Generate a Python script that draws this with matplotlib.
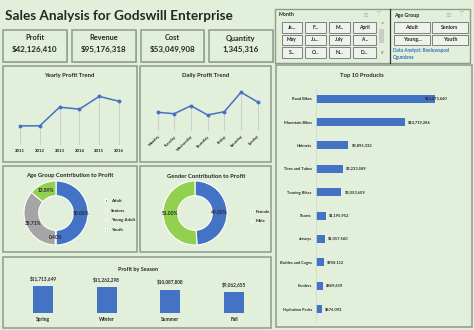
import matplotlib.pyplot as plt
from matplotlib.patches import Rectangle

# canvas in pixels
W, H = 474, 330
BG = '#E2EFDA'
BLUE = '#4472C4'
GREEN = '#92D050'
GRAY = '#A5A5A5'
ORANGE = '#ED7D31'
BORDER = '#8E9B8E'
TXT = '#262626'

plt.rcParams['font.family'] = ['Lato', 'DejaVu Sans']

# data
kpi_names = ['Profit', 'Revenue', 'Cost', 'Quantity']
kpi_values = ['$42,126,410', '$95,176,318', '$53,049,908', '1,345,316']

years = ['2011', '2012', '2013', '2014', '2015', '2016']
yearly_profit = [3.9, 3.9, 7.7, 7.3, 9.9, 8.9]  # $M

days = ['Monday', 'Tuesday', 'Wednesday', 'Thursday', 'Friday', 'Saturday', 'Sunday']
daily_profit = [5.47, 5.33, 6.13, 5.20, 5.53, 7.47, 6.50]  # $M

age_groups = ['Adult', 'Seniors', 'Young Adult', 'Youth']
age_share = [50.00, 0.40, 35.71, 13.89]

genders = ['Female', 'Male']
gender_share = [49.00, 51.00]

seasons = ['Spring', 'Winter', 'Summer', 'Fall']
season_profit = [11713649, 11262298, 10087808, 9062655]

products = ['Road Bikes', 'Mountain Bikes', 'Helmets', 'Tires and Tubes', 'Touring Bikes',
            'Shorts', 'Jerseys', 'Bottles and Cages', 'Fenders', 'Hydration Packs']
product_profit = [14273640, 10719286, 3895332, 3233589, 3053609,
                  1195952, 1057560, 958112, 869619, 676092]

months = ['Ja...', 'F...', 'M...', 'April', 'May', 'Ju...', 'July', 'A...',
          'S...', 'O...', 'N...', 'D...']
age_buttons = ['Adult', 'Seniors', 'Young...', 'Youth']


fig = plt.figure(figsize=(W / 100, H / 100), dpi=100, facecolor=BG)
bg = fig.add_axes([0, 0, 1, 1])
bg.set_xlim(0, W)
bg.set_ylim(H, 0)
bg.axis('off')


def px_axes(x0, y0, x1, y1):
    ax = fig.add_axes([x0 / W, 1 - y1 / H, (x1 - x0) / W, (y1 - y0) / H])
    ax.set_facecolor('none')
    return ax


def panel(x0, y0, x1, y1, shadow=False):
    if shadow:
        bg.add_patch(Rectangle((x0 + 1, y0 + 1), x1 - x0, y1 - y0,
                               facecolor='#B5BFB5', edgecolor='none'))
    bg.add_patch(Rectangle((x0, y0), x1 - x0, y1 - y0, facecolor=BG,
                           edgecolor=BORDER, lw=1.1))


def clean(ax):
    for s in ax.spines.values():
        s.set_visible(False)
    ax.set_yticks([])


# title
bg.text(5, 16, 'Sales Analysis for Godswill Enterprise', fontsize=9.8,
        fontweight='bold', color=TXT, va='center')

# KPI cards
kpi_x = [(3, 67), (72, 136), (141, 204), (209, 273)]
for (x0, x1), name, val in zip(kpi_x, kpi_names, kpi_values):
    panel(x0, 30, x1, 62, shadow=True)
    bg.text((x0 + x1) / 2, 38, name, fontsize=5.3, fontweight='bold',
            color=TXT, ha='center', va='center')
    bg.text((x0 + x1) / 2, 49, val, fontsize=5.8, fontweight='bold',
            color=TXT, ha='center', va='center')

# slicers
bg.add_patch(Rectangle((275, 9), 195, 54, facecolor=BG, edgecolor=BORDER, lw=1.0))
bg.plot([390.5, 390.5], [9, 63], color='#333333', lw=0.9)
bg.text(279, 15, 'Month', fontsize=3.8, fontweight='bold', color=TXT, va='center')
bg.text(394, 15, 'Age Group', fontsize=3.8, fontweight='bold', color=TXT, va='center')
for ix in (365, 448):
    bg.text(ix, 15, '\u2261', fontsize=5, color='#B0B0B0', ha='center', va='center',
            family='DejaVu Sans')
    bg.text(ix + 13, 15, '\u22A4', fontsize=4.5, color='#B0B0B0', ha='center',
            va='center', family='DejaVu Sans')

btn_x = [(282, 302), (305, 326), (329, 350), (353, 376)]
btn_y = [22, 34.5, 47]
for i, m in enumerate(months):
    bx0, bx1 = btn_x[i % 4]
    by = btn_y[i // 4]
    bg.add_patch(Rectangle((bx0, by), bx1 - bx0, 10.5, facecolor='#EEF2EC',
                           edgecolor='#6F6F6F', lw=0.6))
    bg.text((bx0 + bx1) / 2, by + 5.3, m, fontsize=3.6, fontweight='bold',
            color=TXT, ha='center', va='center')
# scrollbar
bg.add_patch(Rectangle((379.5, 29), 5, 14, facecolor='#C8CCC8', edgecolor='none'))
bg.text(382, 24.5, '^', fontsize=4, color='#555555', ha='center', va='center')
bg.text(382, 53, 'v', fontsize=3.6, color='#555555', ha='center', va='center')

age_bx = [(394, 430), (432, 468)]
for i, a in enumerate(age_buttons):
    bx0, bx1 = age_bx[i % 2]
    by = btn_y[i // 2]
    bg.add_patch(Rectangle((bx0, by), bx1 - bx0, 10.5, facecolor='#EEF2EC',
                           edgecolor='#6F6F6F', lw=0.6))
    bg.text((bx0 + bx1) / 2, by + 5.3, a, fontsize=3.8, fontweight='bold',
            color=TXT, ha='center', va='center')
bg.text(393, 50.5, 'Data Analyst: Reoluwaposi', fontsize=3.4, fontweight='bold',
        color='#2E75B6', va='center')
bg.text(393, 57.5, 'Ogundana', fontsize=3.4, fontweight='bold',
        color='#2E75B6', va='center')

# chart panels
panel(3, 66, 137, 162)
panel(140, 66, 271, 162)
panel(3, 166, 137, 252)
panel(140, 166, 271, 252)
panel(3, 257, 271, 328)
panel(276, 65, 472, 327)

# yearly profit trend
bg.text(69, 75, 'Yearly Profit Trend', fontsize=4.2, fontweight='bold',
        color=TXT, ha='center', va='center')
ax = px_axes(10, 90, 129, 145)
xs = range(len(years))
ax.vlines(xs, 0, yearly_profit, color='#C9C9C9', lw=0.6)
ax.plot(xs, yearly_profit, color=BLUE, lw=1.1, marker='o', ms=1.8)
ax.set_xlim(-0.5, len(years) - 0.5)
ax.set_ylim(0, 11.2)
clean(ax)
ax.set_xticks(list(xs))
ax.set_xticklabels(years, fontsize=3.2, fontweight='bold', color=TXT)
ax.tick_params(axis='x', length=0, pad=3)

# daily profit trend
bg.text(206, 75, 'Daily Profit Trend', fontsize=4.2, fontweight='bold',
        color=TXT, ha='center', va='center')
ax = px_axes(149.3, 86, 266, 131)
xs = range(len(days))
ax.vlines(xs, 3.6, daily_profit, color='#C9C9C9', lw=0.6)
ax.axhline(3.6, color='#D6DED2', lw=0.5)
ax.plot(xs, daily_profit, color=BLUE, lw=1.1, marker='o', ms=1.8)
ax.set_xlim(-0.5, len(days) - 0.5)
ax.set_ylim(3.6, 8.1)
clean(ax)
ax.set_xticks(list(xs))
ax.set_xticklabels(days, fontsize=2.8, fontweight='bold', color=TXT,
                   rotation=45, ha='right', rotation_mode='anchor')
ax.tick_params(axis='x', length=0, pad=2.5)

# age group donut
bg.text(70, 175, 'Age Group Contribution to Profit', fontsize=4.2, fontweight='bold',
        color=TXT, ha='center', va='center')
ax = px_axes(23, 180, 89, 246)
wedges, _, pcts = ax.pie(age_share, colors=[BLUE, ORANGE, GRAY, GREEN], startangle=90,
                         counterclock=False, radius=1,
                         autopct=lambda p: f'{p:.2f}%', pctdistance=0.77,
                         wedgeprops=dict(width=0.46, edgecolor='white', lw=0.8))
for t in pcts:
    t.set_fontsize(3.5)
    t.set_fontweight('bold')
    t.set_color(TXT)
ax.set_xlim(-1.03, 1.03)
ax.set_ylim(-1.03, 1.03)
ax.set_aspect('equal')
leg = ax.legend(wedges, age_groups, loc='center left',
                bbox_to_anchor=(101 / W, 1 - 215.5 / H), bbox_transform=fig.transFigure,
                frameon=False, fontsize=3.2, handlelength=0.5, handleheight=0.5,
                handletextpad=0.8, labelspacing=1.3)
for t in leg.get_texts():
    t.set_color(TXT)
    t.set_fontweight('bold')

# gender donut
bg.text(206, 176, 'Gender Contribution to Profit', fontsize=4.2, fontweight='bold',
        color=TXT, ha='center', va='center')
ax = px_axes(162, 180, 228, 246)
wedges, _, pcts = ax.pie(gender_share, colors=[BLUE, GREEN], startangle=90,
                         counterclock=False, radius=1,
                         autopct=lambda p: f'{p:.2f}%', pctdistance=0.77,
                         wedgeprops=dict(width=0.46, edgecolor='white', lw=0.8))
for t in pcts:
    t.set_fontsize(3.5)
    t.set_fontweight('bold')
    t.set_color(TXT)
ax.set_xlim(-1.03, 1.03)
ax.set_ylim(-1.03, 1.03)
ax.set_aspect('equal')
leg = ax.legend(wedges, genders, loc='center left',
                bbox_to_anchor=(246 / W, 1 - 216.5 / H), bbox_transform=fig.transFigure,
                frameon=False, fontsize=3.2, handlelength=0.5, handleheight=0.5,
                handletextpad=0.8, labelspacing=1.3)
for t in leg.get_texts():
    t.set_color(TXT)
    t.set_fontweight('bold')

# profit by season
bg.text(138, 269, 'Profit by Season', fontsize=4.0, fontweight='bold',
        color=TXT, ha='center', va='center')
ax = px_axes(11, 276, 266, 313)
xs = range(len(seasons))
bars = ax.bar(xs, season_profit, width=0.31, color=BLUE)
ax.axhline(0, color='#D3DACF', lw=0.6)
for b, v in zip(bars, season_profit):
    ax.annotate(f'${v:,.0f}', (b.get_x() + b.get_width() / 2, v), xytext=(0, 3),
                textcoords='offset points', ha='center', va='bottom',
                fontsize=3.4, fontweight='bold', color=TXT)
ax.set_xlim(-0.5, len(seasons) - 0.5)
ax.set_ylim(0, 16.1e6)
clean(ax)
ax.set_xticks(list(xs))
ax.set_xticklabels(seasons, fontsize=3.6, fontweight='bold', color=TXT)
ax.tick_params(axis='x', length=0, pad=3)

# top 10 products
bg.text(362, 76, 'Top 10 Products', fontsize=4.2, fontweight='bold',
        color=TXT, ha='center', va='center')
ax = px_axes(316, 87, 449, 320.7)
ys = range(len(products))
bars = ax.barh(ys, product_profit, height=0.34, color=BLUE)
xmax = 15.95e6
for y, v in zip(ys, product_profit):
    ax.text(min(v + 0.35e6, xmax - 2.9e6), y, f'${v:,.0f}', fontsize=2.9,
            fontweight='bold', color=TXT, va='center')
ax.set_xlim(0, xmax)
ax.set_ylim(len(products) - 0.5, -0.5)
for s in ax.spines.values():
    s.set_visible(False)
ax.spines['left'].set_visible(True)
ax.spines['left'].set_color('#D3DACF')
ax.spines['left'].set_linewidth(0.6)
ax.set_xticks([])
ax.set_yticks(list(ys))
ax.set_yticklabels(products, fontsize=2.9, fontweight='bold', color=TXT)
ax.tick_params(axis='y', length=0, pad=3)

fig.savefig('out.png', dpi=100, facecolor=BG)
